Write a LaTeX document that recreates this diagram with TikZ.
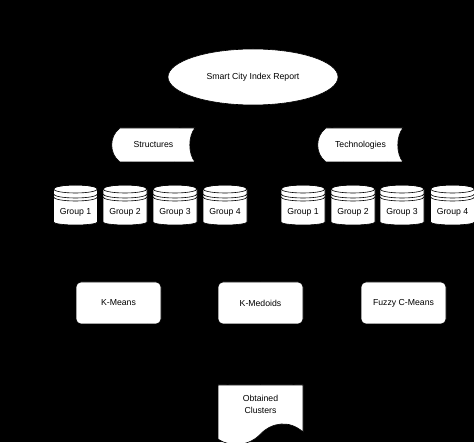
\documentclass[tikz,border=0pt]{standalone}
\usepackage{fontspec}
\setmainfont{Liberation Sans}
\usetikzlibrary{shapes.geometric,arrows.meta}
\tikzset{
  shapeline/.style={fill=white,draw=black,line width=0.6pt},
  lbl/.style={font=\fontsize{8.7}{11.5}\selectfont,text=black,inner sep=0pt,align=center},
  anchorbox/.style={inner sep=0pt,draw=none},
  conn/.style={draw=black,line width=0.8pt,-{Stealth[length=5pt,width=4pt]}},
  algobox/.style={shapeline,rounded corners=5pt,minimum width=85pt,minimum height=42pt,inner sep=0pt,font=\fontsize{8.7}{11.5}\selectfont},
}
\newcommand\groupcyl[3]{%
  \path[shapeline] (#2-22,253) -- (#2-22,220) arc[start angle=180,end angle=360,x radius=22,y radius=3] -- (#2+22,253) arc[start angle=0,end angle=180,x radius=22,y radius=4] -- cycle;
  \draw[line width=0.6pt] (#2,253) ellipse[x radius=22,y radius=4];
  \draw[line width=0.6pt] (#2-22,248) arc[start angle=180,end angle=360,x radius=22,y radius=4];
  \draw[line width=0.6pt] (#2-22,245) arc[start angle=180,end angle=360,x radius=22,y radius=4];
  \node[anchorbox,minimum width=44pt,minimum height=40pt] (#1) at (#2,237) {};
  \node[lbl] (#1-t) at (#2,230) {#3};
}
\begin{document}
\begin{tikzpicture}[x=1pt,y=1pt]
\fill[black] (0,0) rectangle (474,442);
\useasboundingbox (0,0) rectangle (474,442);

% top ellipse
\node[shapeline,ellipse,minimum width=170pt,minimum height=56pt,inner sep=0pt,font=\fontsize{8.7}{11.5}\selectfont] (report) at (253,365) {Smart City Index Report};

% stored data shapes
\path[shapeline] (120,314) -- (195,314) .. controls (188,306) and (188,288) .. (195,280) -- (120,280) .. controls (109,288) and (109,306) .. (120,314) -- cycle;
\node[lbl,minimum width=83pt,minimum height=34pt] (struct) at (153.5,297) {Structures};
\path[shapeline] (326,314) -- (403,314) .. controls (396,306) and (396,288) .. (403,280) -- (326,280) .. controls (315,288) and (315,306) .. (326,314) -- cycle;
\node[lbl,minimum width=85pt,minimum height=34pt] (tech) at (360.5,297) {Technologies};

% groups
\groupcyl{s1}{75.5}{Group 1}
\groupcyl{s2}{125}{Group 2}
\groupcyl{s3}{175}{Group 3}
\groupcyl{s4}{225}{Group 4}
\groupcyl{t1}{303}{Group 1}
\groupcyl{t2}{353}{Group 2}
\groupcyl{t3}{402}{Group 3}
\groupcyl{t4}{452.5}{Group 4}

% algorithms
\node[algobox] (km) at (118.5,139) {K-Means};
\node[algobox] (kmed) at (260.5,139) {K-Medoids};
\node[algobox] (fcm) at (403.5,139) {Fuzzy C-Means};

% document
\path[shapeline] (218,57) -- (303,57) -- (303,10) .. controls (290,22) and (272,20) .. (260.5,8) .. controls (249,-4) and (231,-6) .. (218,3) -- cycle;
\node[lbl,minimum width=85pt,minimum height=47pt] (doc) at (260.5,33.5) {};
\node[lbl] (doc-t) at (260.5,37.5) {Obtained\\Clusters};

\coordinate (hub) at (260,178);

% connectors
\draw[conn] (report) -- (struct);
\draw[conn] (report) -- (tech);
\foreach \g in {s1,s2,s3,s4} \draw[conn] (struct) -- (\g);
\foreach \g in {t1,t2,t3,t4} \draw[conn] (tech) -- (\g);
\foreach \a in {km,kmed,fcm} \draw[conn] (hub) -- (\a);
\foreach \a in {km,kmed,fcm} \draw[conn] (\a) -- (doc);
\end{tikzpicture}
\end{document}
